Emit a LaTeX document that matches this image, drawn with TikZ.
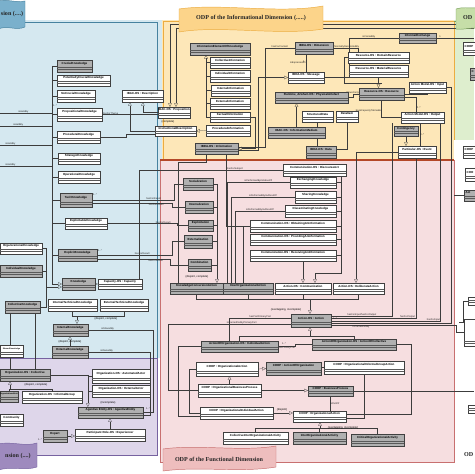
\documentclass[tikz,border=0pt]{standalone}
\usepackage{fontspec}
\setmainfont{Liberation Serif}
\setsansfont{Liberation Sans}
\usetikzlibrary{calc,fit,arrows.meta}
\tikzset{>=stealth}
\pgfdeclarelayer{regions}
\pgfdeclarelayer{wires}
\pgfsetlayers{regions,wires,main}

% colours of the dimensions
\definecolor{cogfill}{RGB}{213,232,240}
\definecolor{cogline}{RGB}{70,130,160}
\definecolor{cogtab}{RGB}{122,176,204}
\definecolor{inffill}{RGB}{253,231,184}
\definecolor{infline}{RGB}{236,172,64}
\definecolor{inftab}{RGB}{252,212,138}
\definecolor{orgfill}{RGB}{222,238,206}
\definecolor{orgline}{RGB}{120,160,90}
\definecolor{orgtab}{RGB}{198,222,168}
\definecolor{funfill}{RGB}{246,222,224}
\definecolor{funline}{RGB}{200,112,112}
\definecolor{funtab}{RGB}{238,190,190}
\definecolor{funtop}{RGB}{180,72,40}
\definecolor{socfill}{RGB}{222,214,234}
\definecolor{socline}{RGB}{118,98,160}
\definecolor{soctab}{RGB}{158,138,190}
\definecolor{boxgray}{RGB}{176,176,176}
\definecolor{wirecol}{RGB}{60,60,60}

\tikzset{
  ubox/.style={draw=black!75,line width=0.25pt,inner sep=0pt},
  utext/.style={font=\sffamily\bfseries\fontsize{2.5}{2.8}\selectfont,inner sep=0pt},
  ucomp/.style={draw=black!65,line width=0.15pt},
  wire/.style={draw=wirecol,line width=0.2pt},
  gen/.style={wire,-{Triangle[open,length=3pt,width=3pt]}},
  rolelbl/.style={font=\sffamily\fontsize{2.1}{2.4}\selectfont,inner sep=0.3pt,text=black!85},
  constr/.style={font=\sffamily\fontsize{2.3}{2.6}\selectfont,inner sep=0pt},
  tabtext/.style={font=\rmfamily\bfseries\fontsize{5.2}{6}\selectfont,text=black!85}
}

% class box: name, x1, y1, x2, y2, fill, title
\newcommand\umlbox[7]{%
  \node[ubox,fill=#6,fit={(#2,#3) (#4,#5)}] (#1) {};
  \node[utext] (#1-t) at ({(#2+#4)/2},{(#3+#5-5)/2}) {#7};
  \draw[ucomp] (#2,{#5-5}) -- (#4,{#5-5}) (#2,{#5-2.5}) -- (#4,{#5-2.5});
}
% class box cut by the right edge
\newcommand\umlcut[7]{%
  \node[ubox,fill=#6,fit={(#2,#3) (#4,#5)}] (#1) {};
  \node[utext,anchor=west] (#1-t) at ({#2+1.5},{(#3+#5-5)/2}) {#7};
  \draw[ucomp] (#2,{#5-5}) -- (#4,{#5-5}) (#2,{#5-2.5}) -- (#4,{#5-2.5});
}
\newcommand\tinytitle[1]{{\fontsize{1.7}{2}\selectfont #1}}

\begin{document}
\begin{tikzpicture}[x=0.3mm,y=-0.3mm]
  \useasboundingbox (0,0) rectangle (474,474);

  \begin{pgfonlayer}{regions}
    \fill[white] (0,0) rectangle (474,474);
    \fill[cogfill] (0,20) rectangle (162,358);
    \fill[inffill] (162,20) rectangle (454,160);
    \fill[orgfill] (454,20) rectangle (474,140);
    \fill[funfill] (160,160) rectangle (454,462);
    \fill[socfill] (0,358) rectangle (157,455);
    \draw[cogline,line width=0.5pt] (22,22) -- (157,22) -- (157,358);
    \draw[infline,line width=0.5pt] (163,160) -- (163,21) -- (454,21) -- (454,140);
    \draw[orgline,line width=0.5pt] (454,21) -- (474,21);
    \draw[funline,line width=0.4pt] (160,160) -- (160,462) -- (454,462) -- (454,160);
    \draw[funtop,line width=1.1pt] (160,160) -- (454,160);
    \draw[socline,line width=0.5pt] (0,358) -- (157,358) -- (157,455) -- (0,455);
  \end{pgfonlayer}

  % cognitive dimension
  \umlbox{crucial}{57}{60}{92}{72}{boxgray}{CrucialKnowledge}
  \umlbox{potcrucial}{57}{75}{110}{86}{white}{PotentiallyCrucialKnowledge}
  \umlbox{nocrucial}{57}{90}{95}{102}{white}{NoCrucialKnowledge}
  \umlbox{propos}{57}{108}{102}{121}{white}{PropositionalKnowledge}
  \umlbox{descr}{122}{90}{163}{102}{white}{IBAC-OS : Description}
  \umlbox{proced}{57}{131}{100}{143}{white}{ProceduralKnowledge}
  \umlbox{strateg}{58}{153}{100}{164}{white}{StrategicKnowledge}
  \umlbox{operat}{58}{171}{100}{183}{white}{OperationalKnowledge}
  \umlbox{tacit}{60}{193}{92}{207}{boxgray}{TacitKnowledge}
  \umlbox{explicitable}{65}{218}{107}{229}{white}{ExplicitableKnowledge}
  \umlbox{explicit}{58}{249}{97}{261}{boxgray}{ExplicitKnowledge}
  \umlbox{orgknow}{0}{243}{42}{254}{white}{OrganizationalKnowledge}
  \umlbox{individual}{0}{265}{42}{277}{boxgray}{IndividualKnowledge}
  \umlbox{knowledge}{62}{278}{95}{290}{boxgray}{Knowledge}
  \umlbox{capacity}{98}{279}{142}{289}{white}{Capacity-OS : Capacity}
  \umlbox{collective}{5}{301}{40}{313}{boxgray}{CollectiveKnowledge}
  \umlbox{inttech}{48}{299}{97}{311}{white}{InternalTechnicalKnowledge}
  \umlbox{exttech}{100}{299}{148}{311}{white}{ExternalTechnicalKnowledge}
  \umlbox{internal}{53}{324}{88}{336}{boxgray}{InternalKnowledge}
  \umlbox{external}{52}{346}{88}{358}{boxgray}{ExternalKnowledge}
  \umlbox{sharedknow}{0}{345}{23}{357}{white}{\tinytitle{SharedKnowledge}}

  % social dimension
  \umlbox{orgcoll}{0}{369}{50}{381}{boxgray}{Organization-OS : Collective}
  \umlbox{autoactor}{92}{369}{150}{383}{white}{Organization-OS : AutomatedActor}
  \umlbox{extactor}{92}{385}{150}{397}{white}{Organization-OS : ExternalActor}
  \umlbox{orgunit}{0}{391}{18}{402}{boxgray}{\tinytitle{OrganizationalUnit}}
  \umlbox{informal}{22}{391}{82}{403}{white}{Organization-OS : InformalGroup}
  \umlbox{lowbox}{0}{414}{23}{426}{white}{Community}
  \umlbox{agentive}{78}{407}{143}{418}{boxgray}{Agentive Entity-OS : AgentiveEntity}
  \umlbox{expert}{43}{430}{67}{442}{boxgray}{Expert}
  \umlbox{experiencer}{75}{429}{145}{441}{white}{Participant Role-OS : Experiencer}
  \coordinate (agtop) at ($(agentive.north west)+(10,0)$);

  % informational dimension
  \umlbox{infoelem}{190}{43}{250}{55}{boxgray}{InformationElementOfKnowledge}
  \umlbox{collinfo}{210}{57}{250}{68}{white}{CollectiveInformation}
  \umlbox{indivinfo}{210}{70}{250}{82}{white}{IndividualInformation}
  \umlbox{intinfo}{211}{85}{250}{96}{white}{InternalInformation}
  \umlbox{extinfo}{210}{98}{250}{109}{white}{ExternalInformation}
  \umlbox{factinfo}{210}{112}{250}{122}{white}{FactualInformation}
  \umlbox{proposition}{158}{107}{190}{118}{white}{IBAC-OS : Proposition}
  \umlbox{procinfo}{206}{125}{250}{136}{white}{ProceduralInformation}
  \umlbox{instrdesc}{155}{126}{196}{136}{white}{InstructionalDescription}
  \umlbox{information}{195}{143}{238}{154}{boxgray}{IBDA-OS : Information}
  \umlbox{dimension}{295}{42}{333}{54}{boxgray}{IBDA-OS : Dimension}
  \umlbox{message}{288}{72}{324}{83}{white}{IBDA-OS : Message}
  \umlbox{physart}{275}{92}{348}{103}{boxgray}{Runtime\_Artefact-OS : PhysicalArtefact}
  \umlbox{infomedium}{268}{127}{325}{138}{boxgray}{IBAC-OS : InformationMedium}
  \umlbox{data}{306}{146}{336}{158}{boxgray}{IBDA-OS : Data}
  \umlbox{structured}{302}{111}{333}{122}{white}{StructuredData}
  \umlbox{dataitem}{336}{111}{358}{122}{white}{DataItem}
  \umlbox{informex}{399}{33}{436}{43}{boxgray}{InformalExchange}
  \umlbox{domres}{348}{52}{409}{63}{white}{Resource-OS : DomainResource}
  \umlbox{matres}{349}{65}{408}{77}{white}{Resource-OS : MaterialResource}
  \umlbox{resource}{359}{88}{404}{100}{boxgray}{Resource-OS : Resource}
  \umlbox{input}{409}{82}{446}{93}{white}{Action Model-OS : Input}
  \umlbox{output}{401}{112}{444}{123}{white}{Action Model-OS : Output}
  \umlbox{contingency}{394}{126}{418}{136}{boxgray}{Contingency}
  \umlbox{event}{398}{146}{436}{158}{white}{Particular-OS : Event}

  % organizational dimension, cut by the right edge
  \umlcut{r1}{463}{42}{480}{55}{white}{COOP}
  \umlcut{r2}{470}{68}{480}{80}{boxgray}{C}
  \umlcut{r3}{463}{146}{480}{158}{white}{COOP}
  \umlcut{r4}{465}{168}{480}{181}{white}{COO}
  \umlcut{r5}{464}{190}{480}{201}{boxgray}{Act}
  \umlcut{r6}{468}{297}{480}{305}{white}{}
  \umlcut{r7}{464}{319}{480}{346}{white}{}
  \umlcut{r8}{468}{405}{480}{413}{white}{}

  % functional dimension
  \umlbox{social}{183}{178}{213}{190}{boxgray}{Socialization}
  \umlbox{internalization}{185}{201}{213}{213}{boxgray}{Internalization}
  \umlbox{explicitation}{188}{220}{213}{231}{boxgray}{Explicitation}
  \umlbox{externalization}{184}{235}{212}{248}{boxgray}{Externalization}
  \umlbox{combination}{188}{259}{211}{271}{boxgray}{Combination}
  \umlbox{discourse}{283}{164}{346}{176}{white}{Communication-OS : DiscourseAct}
  \umlbox{exchanging}{290}{177}{336}{188}{white}{ExchangingKnowledge}
  \umlbox{sharing}{295}{191}{336}{203}{white}{SharingKnowledge}
  \umlbox{dissem}{285}{205}{336}{217}{white}{DisseminatingKnowledge}
  \umlbox{obtaining}{250}{220}{336}{232}{white}{Communication-OS : ObtainingAnInformation}
  \umlbox{providing}{250}{234}{336}{245}{white}{Communication-OS : ProvidingAnInformation}
  \umlbox{receiving}{250}{250}{336}{261}{white}{Communication-OS : ReceivingAnInformation}
  \umlbox{kconv}{170}{283}{223}{294}{boxgray}{KnowledgeConversionAction}
  \umlbox{interorg}{223}{283}{273}{294}{boxgray}{InterOrganizationalAction}
  \umlbox{communication}{275}{283}{331}{294}{white}{Action-OS : Communication}
  \umlbox{deliberate}{333}{283}{384}{294}{white}{Action-OS : DeliberateAction}
  \umlbox{action}{291}{314}{331}{327}{boxgray}{Action-OS : Action}
  \umlbox{individualaction}{201}{341}{278}{352}{boxgray}{ActionOfOrganization-OS : IndividualAction}
  \umlbox{collectiveaction}{312}{339}{396}{350}{boxgray}{ActionOfOrganization-OS : ActionOfCollective}
  \umlbox{orgaction}{196}{362}{258}{376}{white}{COOP : OrganizationalAction}
  \umlbox{actoforg}{266}{362}{321}{375}{boxgray}{COOP : ActionOfOrganization}
  \umlbox{informalgroupaction}{324}{361}{404}{374}{white}{COOP : OrganizationalInformalGroupAction}
  \umlbox{orgbusproc}{198}{384}{261}{397}{white}{COOP : OrganizationalBusinessProcess}
  \umlbox{busproc}{308}{386}{353}{396}{boxgray}{COOP : BusinessProcess}
  \umlbox{orgindiv}{200}{407}{273}{419}{white}{COOP : OrganizationalIndividualAction}
  \umlbox{orgcollact}{293}{411}{346}{422}{white}{COOP : OrganizationalAction}
  \umlbox{collinterorg}{223}{432}{288}{444}{white}{CollectiveInterOrganizationalActivity}
  \umlbox{interorgact}{293}{432}{346}{444}{boxgray}{InterOrganizationalActivity}
  \umlbox{critical}{351}{434}{404}{446}{boxgray}{CriticalOrganizationalActivity}

  \begin{pgfonlayer}{wires}
    % relations across the top
    \coordinate (topA) at (170,24);
    \coordinate (topB) at (176,28);
    \coordinate (rEdgeA) at (474,24);
    \coordinate (rEdgeB) at (474,28);
    \draw[wire] (rEdgeA) -- (topA);
    \draw[gen] (topA) -- (topA |- proposition.north);
    \draw[wire] (rEdgeB) -- (topB);
    \draw[gen] (topB) -- (topB |- proposition.north);

    % knowledge taxonomy
    \coordinate (kbus) at (52,66);
    \draw[gen] (kbus) |- (knowledge.west);
    \foreach \k in {crucial,potcrucial,nocrucial,propos,proced,strateg,operat,tacit,explicitable,explicit}
      \draw[wire] (\k.west) -- (\k.west -| kbus);
    \draw[gen] (knowledge.east) -- (capacity.west);
    \draw[gen] (individual.east) -- ++(4,0) |- ($(knowledge.west)+(0,3)$);
    \draw[wire] (orgknow.east) -| ($(individual.east)+(4,0)$);
    \draw[wire] (collective.east) -| ($(individual.east)+(4,0)$);
    \coordinate (lEdgeA) at (0,113);
    \coordinate (lEdgeB) at (0,126);
    \coordinate (lEdgeC) at (0,145);
    \coordinate (lEdgeD) at (0,166);
    \draw[wire] (lEdgeA) -- (lEdgeA -| kbus) node[pos=0.45,above,rolelbl]{isHeldBy};
    \draw[wire] (lEdgeB) -- (lEdgeB -| kbus) node[pos=0.35,above,rolelbl]{isHeldBy};
    \draw[wire] (lEdgeC) -- (lEdgeC -| kbus) node[pos=0.2,above,rolelbl]{isHeldBy};
    \draw[wire] (lEdgeD) -- (lEdgeD -| kbus) node[pos=0.2,above,rolelbl]{isHeldBy};

    % description and proposition
    \draw[gen] (proposition.west) -| ($(descr.south west)+(21,0)$);
    \draw[gen] (instrdesc.west) -| ($(descr.south west)+(8,0)$);
    \draw[wire] (propos.east) -- (propos.east -| proposition.west) node[pos=0.15,above,rolelbl]{hasForTheme};
    \draw[wire] (proced.east) -- ++(26,0) |- ($(instrdesc.west)+(0,3)$);

    % information elements
    \coordinate (ibus) at (206,55);
    \draw[gen] (factinfo.west -| ibus) -- (ibus);
    \foreach \i in {collinfo,indivinfo,intinfo,extinfo,factinfo}
      \draw[wire] (\i.west) -- (\i.west -| ibus);
    \draw[gen] (procinfo.west) -- (instrdesc.east);
    \draw[gen] (factinfo.east) -- ++(5,0) |- (information.east);
    \node[constr] (c-compl) at (168,122) {\{complete\}};

    % dimension, message and artefacts
    \draw[wire] (message.north) -- (message.north |- dimension.south) node[midway,left,rolelbl]{isExpressedIn};
    \draw[wire] (dimension.west) -- ++(-30,0) node[midway,above,rolelbl]{hasForContent} |- ($(information.north east)+(0,4)$);
    \draw[gen] ($(information.east)+(0,2)$) -- ++(20,0) |- (message.west);
    \draw[gen] (infomedium.north) -- (infomedium.north |- physart.south);
    \draw[wire] (structured.south) -- (structured.south |- data.north);
    \draw[wire] (dataitem.south) |- ($(data.east)+(0,-3)$);
    \draw[wire] ($(information.south)+(10,0)$) |- (obtaining.west) node[pos=0.1,right,rolelbl]{hasForSubject};
    \draw[wire] ($(information.south)+(-10,0)$) -- ++(0,8) -| ($(kconv.north west)+(8,0)$);

    % resources
    \draw[gen] (matres.south) -- (matres.south |- resource.north);
    \draw[wire] (domres.west) -- ++(-4,0) |- ($(resource.north)+(0,-5)$);
    \draw[wire] (input.south) |- (resource.east) node[pos=0.15,right,rolelbl]{0..*};
    \draw[wire] ($(output.north)+(-6,0)$) |- ($(resource.east)+(0,3)$) node[pos=0.15,right,rolelbl]{0..*};
    \draw[wire] (resource.south) |- (output.west) node[pos=0.3,left,rolelbl]{bookCapacityToEnable};
    \draw[wire] (physart.east) -- ++(5,0) |- (resource.west) node[pos=0.75,above,rolelbl]{allowsCarryingOut};
    \draw[wire] (informex.west) -- ++(-50,0) node[pos=0.6,above,rolelbl]{isCarriedBy} |- (message.east);
    \draw[wire] ($(domres.north)+(-20,0)$) |- (dimension.east) node[pos=0.75,above,rolelbl]{isNormallyReconciledBy};
    \coordinate (rEdgeD) at (474,37);
    \draw[wire] (informex.east) -- (informex.east -| rEdgeD) node[pos=0.1,above,rolelbl]{1};
    \draw[gen] (contingency.south) -- (contingency.south |- event.north);
    \draw[wire] ($(event.north)+(3,0)$) -- ($(output.south)+(-2.5,0)$) node[midway,right,rolelbl]{0..*};

    % knowledge conversion
    \coordinate (cbus) at (217,184);
    \draw[gen] (cbus) -- (cbus |- kconv.north);
    \foreach \s in {social,internalization,explicitation,externalization,combination}
      \draw[wire] (\s.east) -- (\s.east -| cbus);
    \node[constr] (c-conv) at (197,277) {\{disjoint, complete\}};
    \draw[wire] (tacit.east) -- ++(82,0) node[pos=0.75,above,rolelbl]{hasForResult} |- (social.west);
    \draw[wire] ($(tacit.east)+(0,3)$) -- ++(80,0) node[pos=0.8,below,rolelbl]{hasForResult} |- (internalization.west);
    \draw[wire] (explicitable.east) -- ++(70,0) node[pos=0.8,above,rolelbl]{hasForResult} |- (explicitation.west);
    \draw[wire] (explicit.east) -- ++(75,0) node[pos=0.6,above,rolelbl]{hasForResult} |- (externalization.west);
    \draw[wire] ($(explicit.east)+(0,4)$) -- ++(73,0) node[pos=0.8,below,rolelbl]{hasForResult} |- (combination.west);
    \draw[wire,line width=0.45pt] ($(capacity.north east)+(-3,0)$) |- (discourse.west);

    % communication
    \coordinate (cbusR) at (341,176);
    \foreach \c in {exchanging,sharing,dissem,obtaining,providing,receiving}
      \draw[wire] (\c.east) -- (\c.east -| cbusR);
    \draw[gen] (cbusR) |- ($(communication.north)+(12,-10)$) -- ($(communication.north)+(12,0)$);
    \draw[wire] (exchanging.west) -| ($(interorg.north west)+(4,0)$) node[pos=0.25,above,rolelbl]{isPerformedBy/isAboutOf};
    \draw[wire] (sharing.west) -| ($(interorg.north west)+(8,0)$) node[pos=0.25,above,rolelbl]{isPerformedBy/isAboutOf};
    \draw[wire] (dissem.west) -| ($(interorg.north west)+(12,0)$) node[pos=0.25,above,rolelbl]{isPerformedBy/isAboutOf};
    \draw[wire] (obtaining.west) -| ($(interorg.north west)+(20,0)$);
    \draw[gen] (receiving.south -| communication.north) -- (communication.north);
    \draw[gen] (event.west) -| ($(deliberate.north)+(-2.5,0)$);

    % actions
    \coordinate (abus) at (310,299);
    \draw[gen] (abus) -- (abus |- action.north);
    \foreach \a in {kconv,interorg,communication,deliberate}
      \draw[wire] (\a.south) |- (abus);
    \node[constr] (c-act) at (286,310) {\{overlapping, incomplete\}};
    \coordinate (abot) at (310,336);
    \draw[gen] (abot) -- (abot |- action.south);
    \draw[wire] (individualaction.north) |- (abot);
    \draw[wire] (collectiveaction.north) |- (abot);
    \draw[wire] ($(action.west)+(0,-2)$) -| ($(individualaction.north)+(-10,0)$) node[pos=0.25,above,rolelbl]{hasPartPrimaryPart};
    \draw[wire] ($(action.west)+(0,4)$) -| ($(orgbusproc.west)+(-30,0)$) node[pos=0.2,above,rolelbl]{isCarriedOutByPrimaryPart} -- (orgbusproc.west);
    \draw[wire] (individualaction.east) -- ++(17,0) node[pos=0.5,below,rolelbl]{hasPrimaryPart} |- (collectiveaction.west);
    \draw[wire] ($(action.east)+(0,-4)$) -| ($(output.south)+(-30,0)$) node[pos=0.25,above,rolelbl]{hasForInput/hasForOutput};
    \draw[wire] ($(action.east)+(0,-2)$) -| ($(event.south)+(-1,0)$) node[pos=0.45,above,rolelbl]{hasForOutput};
    \draw[wire] ($(action.east)+(0,1)$) -| ($(output.south)+(17.5,0)$) node[pos=0.47,above,rolelbl]{hasForInput};
    \draw[wire] ($(action.east)+(0,3)$) -| ($(input.east)+(5,0)$) -- (input.east);
    \draw[wire] ($(action.east)+(0,5)$) -| ($(r7.west)+(-8,0)$) node[pos=0.12,below,rolelbl]{isCarriedOutBy} -- (r7.west);

    % organizational actions
    \draw[gen] (orgaction.east) -- (actoforg.west);
    \draw[gen] (orgbusproc.north) -- (orgbusproc.north |- orgaction.south);
    \draw[gen] (orgbusproc.east) -- (busproc.west |- orgbusproc.east);
    \draw[gen] (orgindiv.east) -- (orgcollact.west |- orgindiv.east);
    \node[constr] (c-disj) at (282,410) {\{disjoint\}};
    \draw[wire] (orgaction.west) -- ++(-7,0) |- (orgindiv.west);
    \draw[wire] (informalgroupaction.west) -- (actoforg.east |- informalgroupaction.west);
    \draw[wire] ($(orgcollact.north west)+(37,0)$) |- (busproc.south) node[pos=0.25,right,rolelbl]{isPartOf};
    \coordinate (ubus) at (320,428);
    \draw[gen] (ubus) -- (ubus |- orgcollact.south);
    \foreach \u in {collinterorg,interorgact,critical}
      \draw[wire] (\u.north) |- (ubus);
    \node[constr] (c-coop) at (343,428) {\{overlapping, incomplete\}};
    \coordinate (rEdgeC) at (474,391);
    \draw[wire] (busproc.east) -- (busproc.east -| rEdgeC);
    \draw[wire] (informalgroupaction.south) |- ($(orgcollact.east)+(0,2)$);
    \draw[wire] (collectiveaction.east) -- ++(15,0) |- ($(orgcollact.east)+(0,-2)$);
    \draw[wire] ($(orgindiv.west)+(0,3)$) -- ++(-22,0) |- (individualaction.west);

    % organizations and agents
    \coordinate (obus) at (10,389);
    \draw[gen] (obus) -- (obus |- orgcoll.south);
    \draw[wire] (orgunit.north) |- (obus);
    \draw[wire] (informal.north) |- (obus);
    \node[constr] (c-org) at (36,385) {\{disjoint, complete\}};
    \draw[gen] (orgcoll.east) -| (agtop);
    \draw[wire] (autoactor.west) -- (autoactor.west -| agtop);
    \draw[wire] (extactor.west) -- (extactor.west -| agtop);
    \node[constr] (c-agent) at (108,403) {\{incomplete\}};
    \draw[gen] (experiencer.north) -- (experiencer.north |- agentive.south);
    \draw[gen] (expert.east) -- (experiencer.west |- expert.east);
    \node[rolelbl] (m-expert) at (40,440) {1..*};
    \draw[wire] (internal.east) -- ++(65,0) node[pos=0.3,above,rolelbl]{isSharedBy} |- (agentive.east);
    \draw[wire] (external.east) -- ++(62,0) node[pos=0.3,above,rolelbl]{isOwnedBy} |- ($(agentive.east)+(0,3)$);
    \node[rolelbl] (m-agent) at (148,409) {1..*};
    \draw[wire] ($(collective.south west)+(5,0)$) -- ($(orgcoll.north west)+(10,0)$);
    \draw[wire] ($(collective.south east)+(-5,0)$) -- ($(orgcoll.north east)+(-15,0)$);

    % technical knowledge
    \coordinate (tbus) at (77,316);
    \draw[wire] (inttech.south) |- (tbus);
    \draw[wire] (exttech.south) |- (tbus);
    \draw[gen] (tbus) -- (tbus |- internal.north);
    \node[constr] (c-tech) at (106,319) {\{disjoint, complete\}};
    \draw[gen] (external.north) -- (external.north |- internal.south);
    \node[constr] (c-int) at (70,342) {\{disjoint, complete\}};

    % the organizational dimension on the right
    \coordinate (rEdgeE) at (454,195);
    \draw[wire] (r5.west) -- (r5.west -| rEdgeE);
    \draw[wire] (r6.west) -- ++(-5,0) |- ($(r7.west)+(-5,-10)$);

    % multiplicities
    \node[rolelbl] (m1) at (55,106) {1..*};
    \node[rolelbl] (m2) at (88,141) {1..*};
    \node[rolelbl] (m3) at (95,195) {1..*};
    \node[rolelbl] (m4) at (100,251) {1..*};
    \node[rolelbl] (m5) at (305,62) {1..*};
    \node[rolelbl] (m6) at (335,319) {1..*};
    \node[rolelbl] (m7) at (284,344) {1..*};
  \end{pgfonlayer}

  % titles of the dimensions
  \draw[cogline,fill=cogtab,line width=0.4pt] (-2,1) .. controls (8,-1) and (16,3) .. (25,1) -- (25,27) .. controls (16,31) and (8,25) .. (-2,29) -- cycle;
  \node[tabtext] (tab-cog) at (12,14) {sion (....)};
  \draw[infline,fill=inftab,line width=0.4pt] (179,9) .. controls (220,3) and (280,14) .. (323,6) -- (323,29) .. controls (280,36) and (220,25) .. (179,32) -- cycle;
  \node[tabtext] (tab-inf) at (251,18) {ODP of the Informational Dimension (.....)};
  \draw[orgline,fill=orgtab,line width=0.4pt] (456,9) .. controls (462,7) and (468,8) .. (476,8) -- (476,28) .. controls (468,28) and (462,30) .. (456,29) -- cycle;
  \node[tabtext,anchor=west] (tab-org) at (459,18) {OD};
  \draw[funline,fill=funtab,line width=0.4pt] (163,449) .. controls (200,444) and (240,452) .. (276,446) -- (276,467) .. controls (240,473) and (200,466) .. (163,471) -- cycle;
  \node[tabtext] (tab-fun) at (219,459) {ODP of the Functional Dimension};
  \draw[socline,fill=soctab,line width=0.4pt] (-2,444) .. controls (12,441) and (25,447) .. (37,443) -- (37,467) .. controls (25,471) and (12,466) .. (-2,470) -- cycle;
  \node[tabtext] (tab-soc) at (18,456) {nsion (....)};
  \node[tabtext,anchor=west] (tab-org2) at (460,455) {OD};
\end{tikzpicture}
\end{document}
